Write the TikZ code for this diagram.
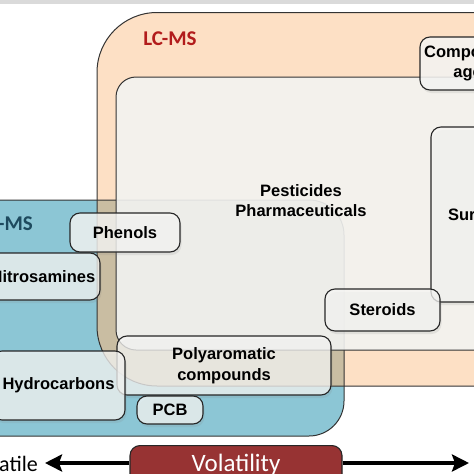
\documentclass[tikz,border=0pt]{standalone}
\usepackage{fontspec}
\setmainfont{Liberation Sans}
\newfontfamily\calfont{Carlito}
\usetikzlibrary{arrows.meta,shadows}
\definecolor{orng}{HTML}{FDE0C5}
\definecolor{tan}{HTML}{C9BDA2}
\definecolor{gcblue}{HTML}{8CC6D5}
\definecolor{ingray}{HTML}{F2F3F1}
\definecolor{boxfill}{HTML}{F6F6F4}
\definecolor{volred}{HTML}{973333}
\definecolor{lcred}{HTML}{B21C1C}
\definecolor{gcteal}{HTML}{1E4A5E}
\definecolor{topgray}{HTML}{DADADA}
\begin{document}
\begin{tikzpicture}[x=1pt,y=-1pt,
  lbox/.style={draw=black!85, line width=1.1pt, rounded corners=10pt, fill=boxfill,
    fill opacity=0.75, text opacity=1, align=center, inner sep=0pt,
    font=\bfseries\fontsize{16.5}{20.5}\selectfont,
    drop shadow={opacity=0.15, shadow xshift=1.5pt, shadow yshift=-3pt}},
  region/.style={draw=black!80, line width=1pt},
  plain/.style={align=center, inner sep=0pt, font=\bfseries\fontsize{16.5}{20.5}\selectfont},
  tag/.style={inner sep=0pt, font=\calfont\bfseries\fontsize{21}{24}\selectfont},
  volarrow/.style={line width=4pt, -{Stealth[length=17pt,width=17pt,inset=3pt]}}
]
\useasboundingbox (0,0) rectangle (474,474);
\fill[topgray] (0,0) rectangle (474,4);
% regions
\def\gcpath{[rounded corners=35pt] (-60,200) rectangle (344,436)}
\def\lcpath{[rounded corners=60pt] (97,12.5) rectangle (560,386)}
\fill[gcblue] \gcpath;
\fill[orng] \lcpath;
\begin{scope}
  \clip \gcpath;
  \fill[tan] \lcpath;
\end{scope}
\draw[region] \gcpath;
\draw[region] \lcpath;
\draw[region, fill=ingray, fill opacity=0.9, rounded corners=20pt] (116,77) rectangle (560,350);
% labels of regions
\node[tag, text=lcred] (lcms) at (170,39) {LC-MS};
\node[tag, text=gcteal, anchor=base east] (gcms) at (33,230) {GC-MS};
\node[plain] (pest) at (301,200.5) {Pesticides\\Pharmaceuticals};
% compound boxes
\node[lbox, fill opacity=0.85, minimum width=120pt, minimum height=53pt] (compo) at (480,63.5) {Compounding\\agents};
\node[lbox, minimum width=125pt, minimum height=175pt] (surf) at (493.5,214.5) {Surfactants};
\node[lbox, minimum width=115pt, minimum height=42pt] (ster) at (382.5,310) {Steroids};
\node[lbox, fill opacity=0.8, minimum width=110pt, minimum height=39pt] (phen) at (125,232.5) {Phenols};
\node[lbox, minimum width=114pt, minimum height=47pt] (nitro) at (43,276.5) {Nitrosamines};
\node[lbox, minimum width=214pt, minimum height=59pt] (poly) at (224,365.5) {Polyaromatic\\compounds};
\node[lbox, minimum width=133pt, minimum height=69pt] (hydro) at (58.5,385.5) {Hydrocarbons};
\node[lbox, minimum width=66pt, minimum height=28pt] (pcb) at (170,410) {PCB};
% volatility axis
\node[draw=black!85, line width=1.1pt, fill=volred, rounded corners=10pt, anchor=north,
  minimum width=212pt, inner xsep=0pt, inner ysep=0pt, text height=26pt, text depth=20pt,
  text=white, font=\calfont\fontsize{25}{28}\selectfont] (vol) at (236,445) {Volatility};
\node[anchor=base east, inner sep=0pt, font=\calfont\fontsize{22}{26}\selectfont] (volat) at (38,471) {Volatile};
\coordinate (ltip) at (45,463);
\coordinate (rtip) at (469,463);
\draw[volarrow] (vol.west |- ltip) -- (ltip);
\draw[volarrow] (vol.east |- rtip) -- (rtip);
\end{tikzpicture}
\end{document}
